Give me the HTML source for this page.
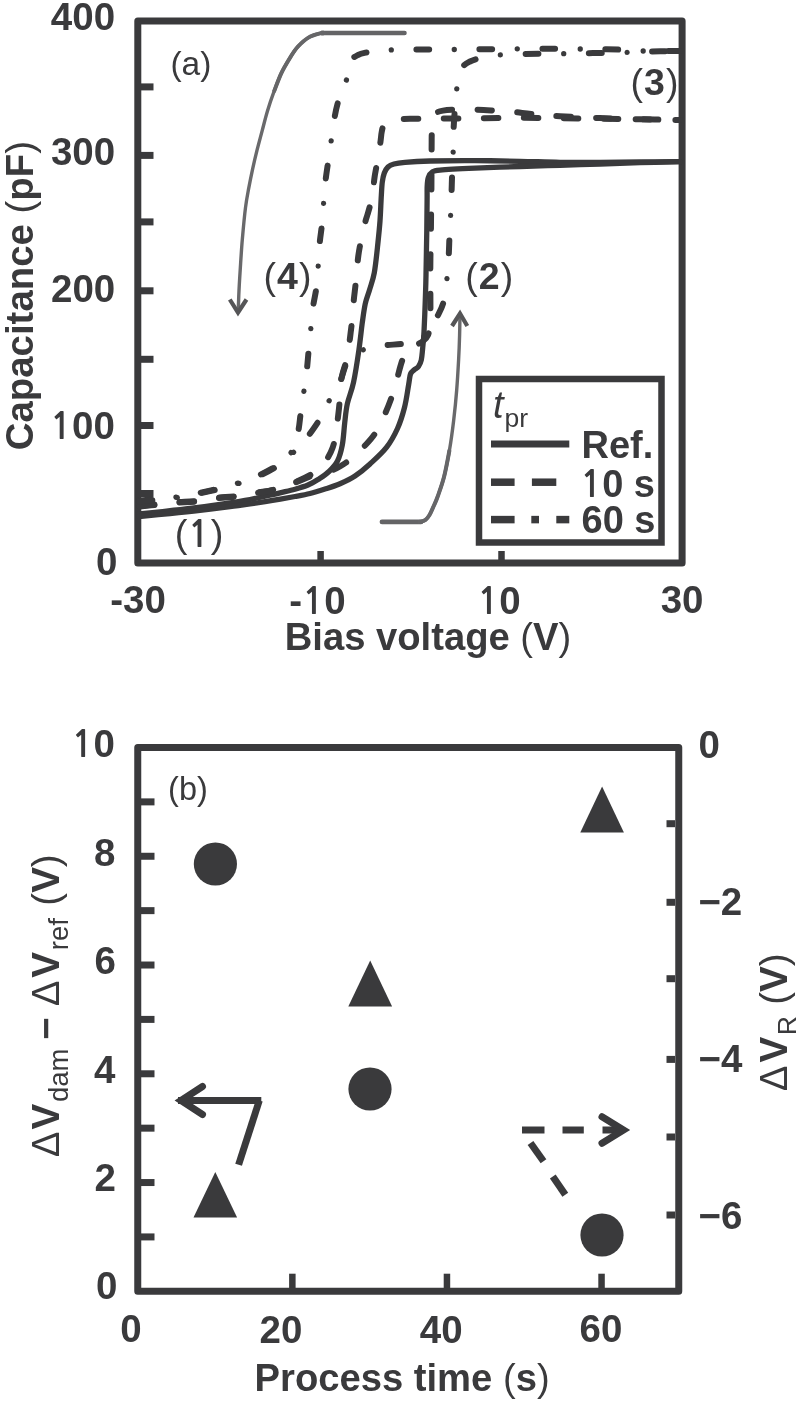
<!DOCTYPE html>
<html><head><meta charset="utf-8">
<style>
html,body{margin:0;padding:0;background:#fff;}
svg{display:block;}
text{font-family:"Liberation Sans",Arial,sans-serif;fill:#3a3a3c;}
.b{font-weight:bold;}
.tl{font-size:37px;font-weight:bold;}
</style></head><body>
<svg width="800" height="1402" viewBox="0 0 800 1402">
<rect x="0" y="0" width="800" height="1402" fill="#fff"/>
<rect x="137.8" y="21" width="544.3" height="542" fill="none" stroke="#3a3a3c" stroke-width="7" stroke-linejoin="round"/>
<line x1="141" y1="86.9" x2="153.5" y2="86.9" stroke="#3a3a3c" stroke-width="7" stroke-linecap="butt" />
<line x1="141" y1="155.4" x2="153.5" y2="155.4" stroke="#3a3a3c" stroke-width="7" stroke-linecap="butt" />
<line x1="141" y1="221.9" x2="153.5" y2="221.9" stroke="#3a3a3c" stroke-width="7" stroke-linecap="butt" />
<line x1="141" y1="290.8" x2="153.5" y2="290.8" stroke="#3a3a3c" stroke-width="7" stroke-linecap="butt" />
<line x1="141" y1="359.3" x2="153.5" y2="359.3" stroke="#3a3a3c" stroke-width="7" stroke-linecap="butt" />
<line x1="141" y1="425.5" x2="153.5" y2="425.5" stroke="#3a3a3c" stroke-width="7" stroke-linecap="butt" />
<line x1="141" y1="493.5" x2="153.5" y2="493.5" stroke="#3a3a3c" stroke-width="7" stroke-linecap="butt" />
<line x1="320.6" y1="551" x2="320.6" y2="560" stroke="#3a3a3c" stroke-width="6.5" stroke-linecap="butt" />
<line x1="501.5" y1="551" x2="501.5" y2="560" stroke="#3a3a3c" stroke-width="6.5" stroke-linecap="butt" />
<text transform="translate(33.2,295.6) rotate(-90)" font-size="38.4" font-weight="bold" text-anchor="middle">Capacitance <tspan font-weight="normal">(</tspan>pF<tspan font-weight="normal">)</tspan></text>
<rect x="479" y="379" width="182.5" height="163.5" fill="#fff" stroke="#3a3a3c" stroke-width="6.5"/>
<text x="493" y="417.8" font-size="38" font-weight="normal" font-style="italic">t<tspan x="504.6" font-size="26.5" font-style="normal" dy="9.6">pr</tspan></text>
<line x1="491" y1="444" x2="569.3" y2="444" stroke="#3a3a3c" stroke-width="7" stroke-linecap="butt" />
<line x1="491" y1="482.2" x2="514.6" y2="482.2" stroke="#3a3a3c" stroke-width="7.5" stroke-linecap="butt" />
<line x1="531.9" y1="482.2" x2="556.3" y2="482.2" stroke="#3a3a3c" stroke-width="7.5" stroke-linecap="butt" />
<line x1="491" y1="519.6" x2="514.6" y2="519.6" stroke="#3a3a3c" stroke-width="7.5" stroke-linecap="butt" />
<line x1="531.3" y1="519.6" x2="539" y2="519.6" stroke="#3a3a3c" stroke-width="7.5" stroke-linecap="butt" />
<line x1="556.3" y1="519.6" x2="569.3" y2="519.6" stroke="#3a3a3c" stroke-width="7.5" stroke-linecap="butt" />
<rect x="137.75" y="747.5" width="541" height="543.8" fill="none" stroke="#3a3a3c" stroke-width="7" stroke-linejoin="round"/>
<line x1="141" y1="1236.9199999999998" x2="154.5" y2="1236.9199999999998" stroke="#3a3a3c" stroke-width="7" stroke-linecap="butt" />
<line x1="141" y1="1182.54" x2="154.5" y2="1182.54" stroke="#3a3a3c" stroke-width="7" stroke-linecap="butt" />
<line x1="141" y1="1128.1599999999999" x2="154.5" y2="1128.1599999999999" stroke="#3a3a3c" stroke-width="7" stroke-linecap="butt" />
<line x1="141" y1="1073.78" x2="154.5" y2="1073.78" stroke="#3a3a3c" stroke-width="7" stroke-linecap="butt" />
<line x1="141" y1="1019.3999999999999" x2="154.5" y2="1019.3999999999999" stroke="#3a3a3c" stroke-width="7" stroke-linecap="butt" />
<line x1="141" y1="965.02" x2="154.5" y2="965.02" stroke="#3a3a3c" stroke-width="7" stroke-linecap="butt" />
<line x1="141" y1="910.6399999999999" x2="154.5" y2="910.6399999999999" stroke="#3a3a3c" stroke-width="7" stroke-linecap="butt" />
<line x1="141" y1="856.26" x2="154.5" y2="856.26" stroke="#3a3a3c" stroke-width="7" stroke-linecap="butt" />
<line x1="141" y1="801.8799999999999" x2="154.5" y2="801.8799999999999" stroke="#3a3a3c" stroke-width="7" stroke-linecap="butt" />
<line x1="666.5" y1="823.7" x2="675" y2="823.7" stroke="#3a3a3c" stroke-width="7" stroke-linecap="butt" />
<line x1="666.5" y1="902.3" x2="675" y2="902.3" stroke="#3a3a3c" stroke-width="7" stroke-linecap="butt" />
<line x1="666.5" y1="978.7" x2="675" y2="978.7" stroke="#3a3a3c" stroke-width="7" stroke-linecap="butt" />
<line x1="666.5" y1="1059.4" x2="675" y2="1059.4" stroke="#3a3a3c" stroke-width="7" stroke-linecap="butt" />
<line x1="666.5" y1="1137" x2="675" y2="1137" stroke="#3a3a3c" stroke-width="7" stroke-linecap="butt" />
<line x1="666.5" y1="1215" x2="675" y2="1215" stroke="#3a3a3c" stroke-width="7" stroke-linecap="butt" />
<line x1="292.35" y1="1273.7" x2="292.35" y2="1288" stroke="#3a3a3c" stroke-width="6.5" stroke-linecap="butt" />
<line x1="446.95000000000005" y1="1273.7" x2="446.95000000000005" y2="1288" stroke="#3a3a3c" stroke-width="6.5" stroke-linecap="butt" />
<line x1="601.55" y1="1273.7" x2="601.55" y2="1288" stroke="#3a3a3c" stroke-width="6.5" stroke-linecap="butt" />
<text transform="translate(58.5,0) rotate(-90)"><tspan x="-1157.30" y="0" font-size="38.5" font-weight="normal">Δ</tspan><tspan x="-1129.50" y="0" font-size="38.5" font-weight="bold">V</tspan><tspan x="-1102.00" y="9.7" font-size="27.5" font-weight="normal">dam</tspan><tspan x="-1039.80" y="0" font-size="38.5" font-weight="bold">−</tspan><tspan x="-1006.30" y="0" font-size="38.5" font-weight="normal">Δ</tspan><tspan x="-977.70" y="0" font-size="38.5" font-weight="bold">V</tspan><tspan x="-950.20" y="9.7" font-size="27.5" font-weight="normal">ref</tspan><tspan x="-905.70" y="0" font-size="38.5" font-weight="bold"><tspan font-weight="normal">(</tspan>V<tspan font-weight="normal">)</tspan></tspan></text>
<text transform="translate(787,0) rotate(-90)"><tspan x="-1091.30" y="0" font-size="38.5" font-weight="normal">Δ</tspan><tspan x="-1062.40" y="0" font-size="38.5" font-weight="bold">V</tspan><tspan x="-1035.20" y="9" font-size="26.5" font-weight="normal">R</tspan><tspan x="-1004.80" y="0" font-size="38.5" font-weight="bold"><tspan font-weight="normal">(</tspan>V<tspan font-weight="normal">)</tspan></tspan></text>
<circle cx="215.4" cy="864" r="21.6" fill="#3a3a3c"/>
<circle cx="370" cy="1089" r="21.6" fill="#3a3a3c"/>
<circle cx="602" cy="1235" r="21.6" fill="#3a3a3c"/>
<polygon points="215.3,1172 193.5,1217.6 237.10000000000002,1217.6" fill="#3a3a3c"/>
<polygon points="370.2,960.5 348.3,1006.5 392.09999999999997,1006.5" fill="#3a3a3c"/>
<polygon points="602.1,786.6 580.3000000000001,832.5 623.9,832.5" fill="#3a3a3c"/>
<line x1="178" y1="1100.5" x2="261.3" y2="1100.5" stroke="#3a3a3c" stroke-width="7" stroke-linecap="butt" />
<line x1="259.3" y1="1100.5" x2="238.6" y2="1164.8" stroke="#3a3a3c" stroke-width="7" stroke-linecap="butt" />
<polyline points="202.5,1086.5 181,1100.5 202.5,1114.5" fill="none" stroke="#3a3a3c" stroke-width="7" stroke-linecap="round" stroke-linejoin="miter"/>
<line x1="522" y1="1130" x2="544.5" y2="1130" stroke="#3a3a3c" stroke-width="7" stroke-linecap="butt" />
<line x1="562.5" y1="1130" x2="583.8" y2="1130" stroke="#3a3a3c" stroke-width="7" stroke-linecap="butt" />
<line x1="602.5" y1="1130" x2="624" y2="1130" stroke="#3a3a3c" stroke-width="7" stroke-linecap="butt" />
<polyline points="602,1116.8 623.5,1130 602,1143.2" fill="none" stroke="#3a3a3c" stroke-width="7" stroke-linecap="round"/>
<line x1="530.5" y1="1143" x2="543.5" y2="1161.3" stroke="#3a3a3c" stroke-width="7" stroke-linecap="butt" />
<line x1="552.8" y1="1176.5" x2="565.3" y2="1194.8" stroke="#3a3a3c" stroke-width="7" stroke-linecap="butt" />
<path d="M406.0,33.0 C401.7,33.0 391.0,33.0 380.0,33.0 C369.0,33.0 350.0,32.9 340.0,33.0 C330.0,33.1 325.3,32.6 320.0,33.4 C314.7,34.2 312.1,35.4 308.4,37.6 C304.7,39.8 301.0,43.3 298.0,46.5 C295.0,49.7 293.2,52.6 290.5,57.0 C287.8,61.4 284.3,67.0 281.5,72.8 C278.7,78.6 276.2,85.7 273.8,92.1 C271.4,98.5 269.3,104.9 267.4,111.3 C265.5,117.7 263.9,124.2 262.2,130.6 C260.5,137.0 258.7,143.5 257.1,149.9 C255.5,156.3 254.0,162.7 252.6,169.1 C251.2,175.5 249.9,182.0 248.7,188.4 C247.5,194.8 246.6,199.1 245.5,207.6 C244.4,216.1 243.2,229.3 242.3,239.7 C241.4,250.1 240.8,260.8 240.2,270.0 C239.6,279.2 239.1,288.0 238.8,295.0 C238.5,302.0 238.3,309.2 238.2,312.0" fill="none" stroke="#69696b" stroke-width="3.4" stroke-linecap="butt" stroke-linejoin="round" />
<path d="M322,33 L404.5,33" stroke="#646466" stroke-width="4.6" stroke-linecap="round" fill="none"/><path d="M321,33 L324,33" stroke="#646466" stroke-width="4.6" stroke-linecap="butt"/>
<path d="M326.0,33.0 C325.0,33.1 322.9,32.6 320.0,33.4 C317.1,34.2 312.1,35.4 308.4,37.6 C304.7,39.8 301.0,43.3 298.0,46.5 C295.0,49.7 293.2,52.6 290.5,57.0 C287.8,61.4 284.3,67.0 281.5,72.8 C278.7,78.6 275.1,88.9 273.8,92.1" fill="none" stroke="#666668" stroke-width="4.0" stroke-linecap="butt" stroke-linejoin="round" />
<polyline points="229.8,299.5 238,312.5 246.5,299.5" fill="none" stroke="#555557" stroke-width="4.2" stroke-linejoin="miter" stroke-linecap="butt"/>
<path d="M382.0,521.9 C385.8,521.9 398.6,521.9 405.0,521.9 C411.4,521.9 417.1,522.1 420.5,521.7 C423.9,521.4 424.0,520.9 425.5,519.8 C427.0,518.7 428.2,517.2 429.5,515.0 C430.8,512.8 432.2,509.5 433.5,506.5 C434.8,503.5 435.8,501.9 437.5,497.0 C439.2,492.1 442.0,484.8 444.0,477.0 C446.0,469.2 447.9,459.3 449.5,450.0 C451.1,440.7 452.4,431.0 453.6,421.0 C454.8,411.0 455.9,400.2 456.7,390.0 C457.5,379.8 458.1,369.2 458.6,360.0 C459.1,350.8 459.4,342.7 459.6,335.0 C459.8,327.3 459.9,317.5 460.0,314.0" fill="none" stroke="#69696b" stroke-width="3.4" stroke-linecap="butt" stroke-linejoin="round" />
<line x1="382" y1="521.9" x2="421" y2="521.9" stroke="#646466" stroke-width="4.8" stroke-linecap="round"/>
<path d="M418.0,521.9 C418.4,521.9 419.2,522.1 420.5,521.7 C421.8,521.4 424.0,520.9 425.5,519.8 C427.0,518.7 428.2,517.2 429.5,515.0 C430.8,512.8 432.2,509.5 433.5,506.5 C434.8,503.5 435.8,501.9 437.5,497.0 C439.2,492.1 442.0,484.8 444.0,477.0 C446.0,469.2 448.6,454.5 449.5,450.0" fill="none" stroke="#666668" stroke-width="4.0" stroke-linecap="butt" stroke-linejoin="round" />
<polyline points="452,326 460,313.5 467.3,326" fill="none" stroke="#555557" stroke-width="4.2" stroke-linejoin="miter" stroke-linecap="butt"/>
<path d="M680.0,161.6 C673.3,161.7 653.3,161.9 640.0,162.0 C626.7,162.1 613.3,162.2 600.0,162.3 C586.7,162.4 573.3,162.5 560.0,162.3 C546.7,162.1 534.2,161.6 520.0,161.3 C505.8,161.0 490.0,160.7 475.0,160.6 C460.0,160.5 441.7,160.7 430.0,161.0 C418.3,161.3 411.0,161.8 405.0,162.3 C399.0,162.8 396.8,163.2 394.0,164.0 C391.2,164.8 389.6,165.5 388.0,167.0 C386.4,168.5 385.2,170.5 384.3,173.0 C383.4,175.5 382.8,178.2 382.3,182.0 C381.8,185.8 381.7,189.5 381.3,196.0 C380.9,202.5 380.6,212.5 380.0,221.0 C379.4,229.5 378.4,238.4 377.5,247.0 C376.6,255.6 375.6,265.5 374.3,272.7 C373.0,279.9 371.0,284.8 369.5,290.0 C368.0,295.2 366.4,298.3 365.2,304.0 C364.0,309.7 363.2,316.3 362.1,324.0 C361.1,331.7 360.3,340.2 358.9,350.0 C357.5,359.8 355.4,373.6 353.5,382.5 C351.6,391.4 348.9,396.8 347.4,403.5 C345.9,410.2 345.5,416.1 344.7,423.0 C343.9,429.9 343.5,438.7 342.3,445.0 C341.1,451.3 339.7,456.6 337.5,461.0 C335.3,465.4 332.2,468.4 329.0,471.5 C325.8,474.6 321.5,477.2 318.0,479.5 C314.5,481.8 311.8,483.4 308.0,485.0 C304.2,486.6 299.7,487.9 295.0,489.2 C290.3,490.5 285.0,491.6 280.0,492.8 C275.0,494.0 270.0,495.1 265.0,496.2 C260.0,497.3 257.5,498.1 250.0,499.5 C242.5,500.9 230.0,502.8 220.0,504.3 C210.0,505.8 200.0,507.2 190.0,508.5 C180.0,509.8 168.5,510.9 160.0,511.8 C151.5,512.7 142.5,513.5 139.0,513.8" fill="none" stroke="#3a3a3c" stroke-width="5.3" stroke-linecap="round" stroke-linejoin="round" />
<path d="M139.0,516.5 C144.2,516.0 159.8,514.6 170.0,513.6 C180.2,512.6 190.0,511.6 200.0,510.4 C210.0,509.2 221.7,507.7 230.0,506.6 C238.3,505.5 242.9,505.1 250.0,504.0 C257.1,502.9 265.0,501.6 272.5,500.3 C280.0,499.1 288.8,497.6 295.0,496.5 C301.2,495.4 305.0,494.8 310.0,493.5 C315.0,492.2 320.0,490.6 325.0,489.0 C330.0,487.4 335.0,485.9 340.0,483.7 C345.0,481.5 350.0,479.3 355.0,476.0 C360.0,472.7 364.8,468.8 370.0,464.0 C375.2,459.2 381.9,453.3 386.5,447.4 C391.1,441.5 394.5,435.1 397.5,428.5 C400.5,421.9 402.6,414.8 404.5,407.5 C406.4,400.2 407.6,390.6 408.6,385.0 C409.6,379.4 409.6,376.5 410.5,374.0 C411.4,371.5 412.7,371.2 414.0,370.0 C415.3,368.8 417.3,368.2 418.5,366.5 C419.7,364.8 420.6,363.1 421.3,360.0 C422.0,356.9 422.2,352.7 422.7,348.0 C423.1,343.3 423.6,340.0 424.0,332.0 C424.4,324.0 425.0,309.5 425.3,300.0 C425.6,290.5 425.8,286.7 426.0,275.0 C426.2,263.3 426.6,242.5 426.8,230.0 C427.0,217.5 427.0,207.3 427.1,200.0 C427.2,192.7 427.0,189.8 427.2,186.0 C427.4,182.2 427.5,179.8 428.3,177.5 C429.1,175.2 430.1,173.5 432.0,172.3 C433.9,171.1 432.8,170.9 440.0,170.2 C447.2,169.5 461.7,168.8 475.0,168.2 C488.3,167.6 505.8,167.0 520.0,166.5 C534.2,166.0 546.7,165.7 560.0,165.3 C573.3,164.9 586.7,164.4 600.0,164.0 C613.3,163.6 626.7,163.1 640.0,162.7 C653.3,162.3 673.3,161.8 680.0,161.6" fill="none" stroke="#3a3a3c" stroke-width="5.3" stroke-linecap="round" stroke-linejoin="round" />
<path d="M680.0,120.0 C673.3,119.9 653.3,119.5 640.0,119.3 C626.7,119.1 613.3,118.9 600.0,118.7 C586.7,118.5 573.3,118.4 560.0,118.2 C546.7,118.0 533.3,117.8 520.0,117.8 C506.7,117.8 493.3,118.1 480.0,118.2 C466.7,118.3 451.7,118.5 440.0,118.6 C428.3,118.7 417.0,118.7 410.0,118.8 C403.0,118.9 401.5,118.9 398.0,119.3 C394.5,119.7 391.3,120.1 389.0,121.0 C386.7,121.9 385.2,122.7 384.0,124.5 C382.8,126.3 382.3,128.9 381.7,132.0 C381.1,135.1 381.1,137.8 380.3,143.0 C379.5,148.2 377.9,157.3 377.0,163.0 C376.1,168.7 375.2,172.8 374.6,177.0 C374.0,181.2 373.9,183.7 373.2,188.0 C372.5,192.3 371.6,198.6 370.6,203.0 C369.7,207.4 368.6,210.7 367.5,214.5 C366.4,218.3 365.3,221.4 364.2,226.0 C363.1,230.6 361.7,237.0 360.7,242.0 C359.7,247.0 358.9,251.3 358.3,256.0 C357.7,260.7 357.3,265.2 356.8,270.0 C356.3,274.8 356.0,280.0 355.5,285.0 C355.0,290.0 354.3,294.5 353.8,300.0 C353.3,305.5 352.8,312.5 352.3,318.0 C351.8,323.5 351.2,328.5 350.6,333.0 C350.1,337.5 349.7,340.5 349.0,345.0 C348.3,349.5 347.6,355.0 346.5,360.0 C345.4,365.0 343.2,370.3 342.2,375.0 C341.1,379.7 340.7,383.2 340.2,388.0 C339.7,392.8 339.8,399.2 339.4,404.0 C339.0,408.8 338.6,412.0 338.0,417.0 C337.4,422.0 336.9,428.8 336.0,434.0 C335.1,439.2 334.0,443.8 332.5,448.0 C331.0,452.2 329.1,455.7 327.0,459.0 C324.9,462.3 322.7,465.4 320.0,468.0 C317.3,470.6 315.2,472.1 311.0,474.5 C306.8,476.9 301.0,479.7 295.0,482.2 C289.0,484.7 281.3,487.6 275.0,489.3 C268.7,491.1 263.8,491.5 257.0,492.7 C250.2,493.9 240.7,495.5 234.0,496.4 C227.3,497.2 223.5,497.0 217.0,497.8 C210.5,498.6 201.7,500.4 195.0,501.2 C188.3,501.9 182.8,501.8 177.0,502.3 C171.2,502.8 166.3,503.4 160.0,504.0 C153.7,504.6 142.5,505.7 139.0,506.0" fill="none" stroke="#3a3a3c" stroke-width="6" stroke-linecap="round" stroke-linejoin="round" stroke-dasharray="14.5 25.48" stroke-dashoffset="18.25" />
<path d="M139.0,506.5 C142.5,506.1 153.7,505.0 160.0,504.4 C166.3,503.8 171.2,503.1 177.0,502.6 C182.8,502.1 188.3,502.3 195.0,501.6 C201.7,500.9 210.5,499.0 217.0,498.2 C223.5,497.4 227.3,497.7 234.0,496.8 C240.7,495.9 250.2,494.2 257.0,493.0 C263.8,491.8 268.7,491.2 275.0,489.5 C281.3,487.8 289.2,484.8 295.0,482.6 C300.8,480.4 305.5,478.2 310.0,476.5 C314.5,474.8 318.0,473.7 322.0,472.5 C326.0,471.3 330.0,471.1 334.0,469.5 C338.0,467.9 342.5,465.0 346.0,462.6 C349.5,460.2 352.0,457.7 355.0,455.0 C358.0,452.3 360.8,450.1 364.0,446.6 C367.2,443.2 371.2,439.4 374.5,434.3 C377.8,429.2 381.2,421.9 384.0,416.0 C386.8,410.1 388.9,404.8 391.0,399.0 C393.1,393.2 394.9,386.5 396.5,381.0 C398.1,375.5 399.2,370.2 400.5,366.0 C401.8,361.8 402.6,358.8 404.0,356.0 C405.4,353.2 407.0,351.3 409.0,349.5 C411.0,347.7 413.8,346.3 416.0,345.0 C418.2,343.7 420.5,343.2 422.5,341.5 C424.5,339.8 426.7,338.2 428.0,335.0 C429.3,331.8 429.8,327.8 430.2,322.0 C430.6,316.2 430.4,308.3 430.4,300.0 C430.4,291.7 430.3,280.0 430.3,272.0 C430.3,264.0 430.4,258.8 430.5,252.0 C430.6,245.2 430.8,237.5 430.9,231.0 C431.0,224.5 431.0,219.8 431.1,213.0 C431.2,206.2 431.3,200.3 431.4,190.0 C431.5,179.7 431.5,160.5 431.6,151.0 C431.7,141.5 431.6,138.0 431.8,133.0 C432.0,128.0 432.1,124.3 432.8,121.0 C433.5,117.7 434.3,115.0 436.0,113.3 C437.7,111.6 439.8,111.2 443.0,110.6 C446.2,110.0 449.5,109.8 455.0,109.6 C460.5,109.4 469.7,109.4 476.0,109.6 C482.3,109.8 486.7,110.1 493.0,110.5 C499.3,110.9 507.5,111.4 514.0,112.0 C520.5,112.6 524.3,113.3 532.0,114.0 C539.7,114.7 548.7,115.5 560.0,116.2 C571.3,116.9 586.7,117.6 600.0,118.1 C613.3,118.6 626.7,119.0 640.0,119.3 C653.3,119.6 673.3,119.9 680.0,120.0" fill="none" stroke="#3a3a3c" stroke-width="6" stroke-linecap="round" stroke-linejoin="round" stroke-dasharray="14.5 25.13" stroke-dashoffset="38.65" />
<path d="M680.0,51.0 C673.8,51.0 653.0,51.2 643.0,51.0 C633.0,50.8 627.2,49.9 620.0,49.6 C612.8,49.3 606.9,49.4 600.0,49.3 C593.1,49.2 585.8,49.1 578.8,49.0 C571.7,48.9 564.0,48.8 557.5,48.8 C551.0,48.8 546.7,48.8 540.0,48.8 C533.3,48.8 524.9,48.8 517.5,48.8 C510.1,48.8 502.3,49.0 495.4,49.1 C488.5,49.2 483.1,49.2 476.3,49.3 C469.5,49.4 461.6,49.5 454.4,49.5 C447.2,49.5 439.9,49.5 433.1,49.5 C426.3,49.5 420.7,49.4 413.7,49.5 C406.7,49.6 397.5,49.7 391.2,49.9 C384.9,50.1 380.2,50.3 376.0,50.8 C371.8,51.2 369.0,51.9 366.0,52.6 C363.0,53.3 360.3,53.9 358.0,55.0 C355.7,56.1 353.7,57.0 352.2,59.0 C350.7,61.0 349.7,63.6 348.8,67.0 C347.9,70.4 347.8,75.3 346.6,79.5 C345.4,83.7 342.9,87.9 341.4,92.0 C339.9,96.1 338.7,99.6 337.5,104.0 C336.3,108.4 335.4,112.5 334.4,118.5 C333.4,124.5 332.3,132.9 331.3,140.0 C330.3,147.1 329.3,154.2 328.3,161.0 C327.3,167.8 326.3,174.0 325.5,181.0 C324.7,188.0 324.2,195.7 323.6,203.0 C323.0,210.3 322.6,218.2 321.9,225.0 C321.2,231.8 320.2,237.2 319.6,244.0 C319.0,250.8 318.8,258.7 318.2,266.0 C317.6,273.3 317.1,281.3 316.3,288.0 C315.5,294.7 314.1,299.2 313.2,306.0 C312.3,312.8 311.6,321.3 310.8,328.8 C310.0,336.3 309.3,344.1 308.6,351.0 C307.9,357.9 307.6,363.3 306.8,370.0 C306.0,376.7 304.9,384.1 303.9,391.3 C302.9,398.5 301.6,406.4 300.7,413.0 C299.8,419.6 299.5,425.2 298.3,431.0 C297.1,436.8 295.7,443.1 293.5,448.0 C291.3,452.9 288.2,457.2 285.0,460.5 C281.8,463.8 278.2,465.1 274.0,467.5 C269.8,469.9 265.4,472.4 259.5,475.0 C253.6,477.6 245.7,480.6 238.3,483.0 C230.9,485.4 221.6,487.7 215.0,489.4 C208.4,491.1 205.3,491.7 199.0,493.0 C192.7,494.3 183.5,496.0 177.0,497.0 C170.5,498.0 166.3,498.4 160.0,499.0 C153.7,499.6 142.5,500.2 139.0,500.5" fill="none" stroke="#3a3a3c" stroke-width="6" stroke-linecap="round" stroke-linejoin="round" stroke-dasharray="13 49.99" stroke-dashoffset="1.19" />
<path d="M680.0,51.0 C673.8,51.0 653.0,51.2 643.0,51.0 C633.0,50.8 627.2,49.9 620.0,49.6 C612.8,49.3 606.9,49.4 600.0,49.3 C593.1,49.2 585.8,49.1 578.8,49.0 C571.7,48.9 564.0,48.8 557.5,48.8 C551.0,48.8 546.7,48.8 540.0,48.8 C533.3,48.8 524.9,48.8 517.5,48.8 C510.1,48.8 502.3,49.0 495.4,49.1 C488.5,49.2 483.1,49.2 476.3,49.3 C469.5,49.4 461.6,49.5 454.4,49.5 C447.2,49.5 439.9,49.5 433.1,49.5 C426.3,49.5 420.7,49.4 413.7,49.5 C406.7,49.6 397.5,49.7 391.2,49.9 C384.9,50.1 380.2,50.3 376.0,50.8 C371.8,51.2 369.0,51.9 366.0,52.6 C363.0,53.3 360.3,53.9 358.0,55.0 C355.7,56.1 353.7,57.0 352.2,59.0 C350.7,61.0 349.7,63.6 348.8,67.0 C347.9,70.4 347.8,75.3 346.6,79.5 C345.4,83.7 342.9,87.9 341.4,92.0 C339.9,96.1 338.7,99.6 337.5,104.0 C336.3,108.4 335.4,112.5 334.4,118.5 C333.4,124.5 332.3,132.9 331.3,140.0 C330.3,147.1 329.3,154.2 328.3,161.0 C327.3,167.8 326.3,174.0 325.5,181.0 C324.7,188.0 324.2,195.7 323.6,203.0 C323.0,210.3 322.6,218.2 321.9,225.0 C321.2,231.8 320.2,237.2 319.6,244.0 C319.0,250.8 318.8,258.7 318.2,266.0 C317.6,273.3 317.1,281.3 316.3,288.0 C315.5,294.7 314.1,299.2 313.2,306.0 C312.3,312.8 311.6,321.3 310.8,328.8 C310.0,336.3 309.3,344.1 308.6,351.0 C307.9,357.9 307.6,363.3 306.8,370.0 C306.0,376.7 304.9,384.1 303.9,391.3 C302.9,398.5 301.6,406.4 300.7,413.0 C299.8,419.6 299.5,425.2 298.3,431.0 C297.1,436.8 295.7,443.1 293.5,448.0 C291.3,452.9 288.2,457.2 285.0,460.5 C281.8,463.8 278.2,465.1 274.0,467.5 C269.8,469.9 265.4,472.4 259.5,475.0 C253.6,477.6 245.7,480.6 238.3,483.0 C230.9,485.4 221.6,487.7 215.0,489.4 C208.4,491.1 205.3,491.7 199.0,493.0 C192.7,494.3 183.5,496.0 177.0,497.0 C170.5,498.0 166.3,498.4 160.0,499.0 C153.7,499.6 142.5,500.2 139.0,500.5" fill="none" stroke="#3a3a3c" stroke-width="5.3" stroke-linecap="round" stroke-linejoin="round" stroke-dasharray="0.01 62.98" stroke-dashoffset="26.19" />
<path d="M139.0,501.3 C142.5,501.0 153.7,500.3 160.0,499.7 C166.3,499.1 170.5,498.7 177.0,497.7 C183.5,496.7 192.7,494.8 199.0,493.5 C205.3,492.2 208.4,491.6 215.0,490.0 C221.6,488.4 230.9,486.0 238.3,483.6 C245.7,481.2 253.6,478.2 259.5,475.6 C265.4,473.0 269.8,470.8 274.0,468.2 C278.2,465.6 281.3,463.0 285.0,460.0 C288.7,457.0 292.9,452.9 296.0,450.0 C299.1,447.1 301.3,445.0 303.5,442.5 C305.7,440.0 306.5,438.5 309.0,435.0 C311.5,431.5 315.8,425.5 318.3,421.5 C320.8,417.5 322.2,414.4 324.0,411.0 C325.8,407.6 327.2,404.4 329.0,401.0 C330.8,397.6 333.1,393.9 335.0,390.5 C336.9,387.1 338.7,384.9 340.6,380.5 C342.5,376.1 344.1,368.2 346.2,364.0 C348.3,359.8 350.0,357.9 353.0,355.5 C356.0,353.1 360.3,351.0 364.0,349.5 C367.7,348.0 371.5,347.3 375.0,346.6 C378.5,345.9 380.5,345.8 385.2,345.3 C389.9,344.8 398.4,344.3 403.4,343.7 C408.4,343.1 411.6,342.7 415.0,341.5 C418.4,340.3 421.3,338.8 424.0,336.5 C426.7,334.2 428.8,330.8 431.0,327.5 C433.2,324.2 435.2,320.8 437.3,316.5 C439.4,312.2 441.9,308.1 443.5,302.0 C445.1,295.9 445.9,287.7 446.8,280.0 C447.7,272.3 448.2,263.3 448.7,256.0 C449.1,248.7 449.2,242.8 449.5,236.0 C449.8,229.2 450.3,222.2 450.6,215.0 C450.9,207.8 451.2,199.7 451.5,193.0 C451.8,186.3 451.8,181.9 452.1,175.0 C452.4,168.1 452.9,159.2 453.2,151.5 C453.4,143.8 453.3,135.8 453.6,129.0 C453.9,122.2 454.3,117.0 454.8,110.5 C455.3,104.0 455.8,95.9 456.6,90.0 C457.4,84.1 458.4,79.0 459.5,75.0 C460.6,71.0 461.8,68.2 463.5,66.0 C465.2,63.8 467.7,62.7 470.0,61.5 C472.3,60.3 474.4,59.7 477.4,58.8 C480.4,57.9 484.2,56.9 488.0,56.3 C491.8,55.7 494.4,55.4 499.9,55.0 C505.4,54.6 514.6,54.2 521.2,54.0 C527.9,53.8 533.1,53.8 540.0,53.8 C546.9,53.8 555.2,53.8 562.5,53.7 C569.8,53.6 576.9,53.3 583.8,53.2 C590.6,53.1 596.9,53.1 603.8,53.0 C610.6,52.9 618.5,52.7 625.0,52.5 C631.5,52.3 633.8,51.9 643.0,51.6 C652.2,51.4 673.8,51.1 680.0,51.0" fill="none" stroke="#3a3a3c" stroke-width="6" stroke-linecap="round" stroke-linejoin="round" stroke-dasharray="13 50.31" stroke-dashoffset="62.96" />
<path d="M139.0,501.3 C142.5,501.0 153.7,500.3 160.0,499.7 C166.3,499.1 170.5,498.7 177.0,497.7 C183.5,496.7 192.7,494.8 199.0,493.5 C205.3,492.2 208.4,491.6 215.0,490.0 C221.6,488.4 230.9,486.0 238.3,483.6 C245.7,481.2 253.6,478.2 259.5,475.6 C265.4,473.0 269.8,470.8 274.0,468.2 C278.2,465.6 281.3,463.0 285.0,460.0 C288.7,457.0 292.9,452.9 296.0,450.0 C299.1,447.1 301.3,445.0 303.5,442.5 C305.7,440.0 306.5,438.5 309.0,435.0 C311.5,431.5 315.8,425.5 318.3,421.5 C320.8,417.5 322.2,414.4 324.0,411.0 C325.8,407.6 327.2,404.4 329.0,401.0 C330.8,397.6 333.1,393.9 335.0,390.5 C336.9,387.1 338.7,384.9 340.6,380.5 C342.5,376.1 344.1,368.2 346.2,364.0 C348.3,359.8 350.0,357.9 353.0,355.5 C356.0,353.1 360.3,351.0 364.0,349.5 C367.7,348.0 371.5,347.3 375.0,346.6 C378.5,345.9 380.5,345.8 385.2,345.3 C389.9,344.8 398.4,344.3 403.4,343.7 C408.4,343.1 411.6,342.7 415.0,341.5 C418.4,340.3 421.3,338.8 424.0,336.5 C426.7,334.2 428.8,330.8 431.0,327.5 C433.2,324.2 435.2,320.8 437.3,316.5 C439.4,312.2 441.9,308.1 443.5,302.0 C445.1,295.9 445.9,287.7 446.8,280.0 C447.7,272.3 448.2,263.3 448.7,256.0 C449.1,248.7 449.2,242.8 449.5,236.0 C449.8,229.2 450.3,222.2 450.6,215.0 C450.9,207.8 451.2,199.7 451.5,193.0 C451.8,186.3 451.8,181.9 452.1,175.0 C452.4,168.1 452.9,159.2 453.2,151.5 C453.4,143.8 453.3,135.8 453.6,129.0 C453.9,122.2 454.3,117.0 454.8,110.5 C455.3,104.0 455.8,95.9 456.6,90.0 C457.4,84.1 458.4,79.0 459.5,75.0 C460.6,71.0 461.8,68.2 463.5,66.0 C465.2,63.8 467.7,62.7 470.0,61.5 C472.3,60.3 474.4,59.7 477.4,58.8 C480.4,57.9 484.2,56.9 488.0,56.3 C491.8,55.7 494.4,55.4 499.9,55.0 C505.4,54.6 514.6,54.2 521.2,54.0 C527.9,53.8 533.1,53.8 540.0,53.8 C546.9,53.8 555.2,53.8 562.5,53.7 C569.8,53.6 576.9,53.3 583.8,53.2 C590.6,53.1 596.9,53.1 603.8,53.0 C610.6,52.9 618.5,52.7 625.0,52.5 C631.5,52.3 633.8,51.9 643.0,51.6 C652.2,51.4 673.8,51.1 680.0,51.0" fill="none" stroke="#3a3a3c" stroke-width="5.3" stroke-linecap="round" stroke-linejoin="round" stroke-dasharray="0.01 63.30" stroke-dashoffset="24.8" />
<text x="115.1" y="30.3" font-size="38.5" font-weight="bold" text-anchor="end" >400</text>
<text x="115.2" y="165.0" font-size="38.5" font-weight="bold" text-anchor="end" >300</text>
<text x="115.3" y="301.7" font-size="38.5" font-weight="bold" text-anchor="end" >200</text>
<text x="114.8" y="439.1" font-size="38.5" font-weight="bold" text-anchor="end" ><tspan font-family="NanumGothic, Liberation Sans, sans-serif" font-size="36.6">1</tspan>00</text>
<text x="117.5" y="575.1" font-size="38.5" font-weight="bold" text-anchor="end" >0</text>
<text x="138" y="613.1" font-size="38.5" font-weight="bold" text-anchor="middle" >-30</text>
<text x="317.5" y="613.6" font-size="38.5" font-weight="bold" text-anchor="middle" >-<tspan font-family="NanumGothic, Liberation Sans, sans-serif" font-size="36.6">1</tspan>0</text>
<text x="498.8" y="613.6" font-size="38.5" font-weight="bold" text-anchor="middle" ><tspan font-family="NanumGothic, Liberation Sans, sans-serif" font-size="36.6">1</tspan>0</text>
<text x="682.1" y="613.4" font-size="38.5" font-weight="bold" text-anchor="middle" >30</text>
<text x="428" y="649.8" font-size="38.2" font-weight="bold" text-anchor="middle" >Bias voltage <tspan font-weight="normal">(</tspan>V<tspan font-weight="normal">)</tspan></text>
<text x="170.4" y="75.3" font-size="33.5" font-weight="normal" text-anchor="start" >(a)</text>
<text x="199" y="547.0" font-size="38" font-weight="bold" text-anchor="middle" ><tspan font-weight="normal">(</tspan><tspan dx="0.5" font-family="NanumGothic, Liberation Sans, sans-serif" font-size="36">1</tspan><tspan font-weight="normal" dx="1">)</tspan></text>
<text x="489.3" y="288.5" font-size="37.5" font-weight="bold" text-anchor="middle" ><tspan font-weight="normal">(</tspan><tspan dx="1">2</tspan><tspan font-weight="normal" dx="1">)</tspan></text>
<text x="654.5" y="94.6" font-size="37.5" font-weight="bold" text-anchor="middle" ><tspan font-weight="normal">(</tspan><tspan dx="1">3</tspan><tspan font-weight="normal" dx="1">)</tspan></text>
<text x="287.5" y="289.2" font-size="37.5" font-weight="bold" text-anchor="middle" ><tspan font-weight="normal">(</tspan><tspan dx="1">4</tspan><tspan font-weight="normal" dx="1">)</tspan></text>
<text x="581.5" y="458.3" font-size="38" font-weight="bold" text-anchor="start" >Ref.</text>
<text x="580" y="496.8" font-size="38" font-weight="bold" text-anchor="start" ><tspan font-family="NanumGothic, Liberation Sans, sans-serif" font-size="36.6">1</tspan>0 s</text>
<text x="581.5" y="533" font-size="38" font-weight="bold" text-anchor="start" >60 s</text>
<text x="114.8" y="757.4" font-size="38.5" font-weight="bold" text-anchor="end" ><tspan font-family="NanumGothic, Liberation Sans, sans-serif" font-size="36.6">1</tspan>0</text>
<text x="115.3" y="866.0" font-size="38.5" font-weight="bold" text-anchor="end" >8</text>
<text x="116.0" y="974.2" font-size="38.5" font-weight="bold" text-anchor="end" >6</text>
<text x="115.5" y="1083.2" font-size="38.5" font-weight="bold" text-anchor="end" >4</text>
<text x="116.0" y="1190.6" font-size="38.5" font-weight="bold" text-anchor="end" >2</text>
<text x="117.5" y="1299.0" font-size="38.5" font-weight="bold" text-anchor="end" >0</text>
<text x="698.6" y="758.2" font-size="38.5" font-weight="bold" text-anchor="start" >0</text>
<text x="698.4" y="915.0" font-size="38.5" font-weight="bold" text-anchor="start" >−2</text>
<text x="698.5" y="1072.2" font-size="38.5" font-weight="bold" text-anchor="start" >−4</text>
<text x="698.5" y="1229" font-size="38.5" font-weight="bold" text-anchor="start" >−6</text>
<text x="130.95" y="1342.4" font-size="38.5" font-weight="bold" text-anchor="middle" >0</text>
<text x="280.9" y="1343.0" font-size="38.5" font-weight="bold" text-anchor="middle" >20</text>
<text x="441.2" y="1343.0" font-size="38.5" font-weight="bold" text-anchor="middle" >40</text>
<text x="600.9" y="1342.4" font-size="38.5" font-weight="bold" text-anchor="middle" >60</text>
<text x="402.1" y="1390.6" font-size="38.2" font-weight="bold" text-anchor="middle" >Process time <tspan font-weight="normal">(</tspan>s<tspan font-weight="normal">)</tspan></text>
<text x="168.1" y="799.9" font-size="32.5" font-weight="normal" text-anchor="start" >(b)</text>
</svg>
</body></html>
